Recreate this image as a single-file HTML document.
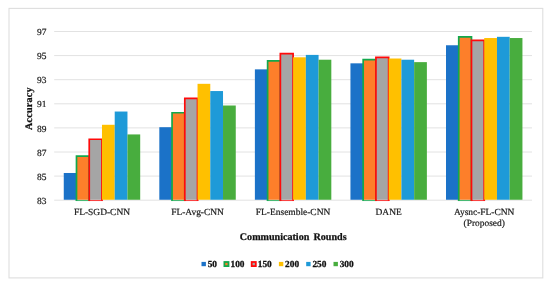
<!DOCTYPE html>
<html><head><meta charset="utf-8"><title>Accuracy vs Communication Rounds</title>
<style>
html,body{margin:0;padding:0;background:#fff}
body{width:550px;height:286px;overflow:hidden}
text{font-family:"Liberation Serif","Times New Roman",serif;fill:#1a1a1a;text-rendering:geometricPrecision}
.t{font-size:9.45px;stroke:#1a1a1a;stroke-width:0.2px}
.c{font-size:9.45px}
.b{font-size:10.1px;font-weight:bold;fill:#111;stroke:#111;stroke-width:0.25px}
.l{font-size:9.3px;font-weight:bold;fill:#111;stroke:#111;stroke-width:0.3px}
</style></head><body>
<svg width="550" height="286" viewBox="0 0 550 286" style="display:block">
<rect x="0" y="0" width="550" height="286" fill="#fff"/>
<rect x="9" y="8.4" width="533.8" height="269.5" fill="#fff" stroke="#dedede" stroke-width="1.1"/>
<line x1="54.2" x2="532.0" y1="200.20" y2="200.20" stroke="#e2e2e2" stroke-width="1"/>
<text x="46.5" y="203.80" text-anchor="end" class="t">83</text>
<line x1="54.2" x2="532.0" y1="176.10" y2="176.10" stroke="#e2e2e2" stroke-width="1"/>
<text x="46.5" y="179.70" text-anchor="end" class="t">85</text>
<line x1="54.2" x2="532.0" y1="152.00" y2="152.00" stroke="#e2e2e2" stroke-width="1"/>
<text x="46.5" y="155.60" text-anchor="end" class="t">87</text>
<line x1="54.2" x2="532.0" y1="127.90" y2="127.90" stroke="#e2e2e2" stroke-width="1"/>
<text x="46.5" y="131.50" text-anchor="end" class="t">89</text>
<line x1="54.2" x2="532.0" y1="103.80" y2="103.80" stroke="#e2e2e2" stroke-width="1"/>
<text x="46.5" y="107.40" text-anchor="end" class="t">91</text>
<line x1="54.2" x2="532.0" y1="79.70" y2="79.70" stroke="#e2e2e2" stroke-width="1"/>
<text x="46.5" y="83.30" text-anchor="end" class="t">93</text>
<line x1="54.2" x2="532.0" y1="55.60" y2="55.60" stroke="#e2e2e2" stroke-width="1"/>
<text x="46.5" y="59.20" text-anchor="end" class="t">95</text>
<line x1="54.2" x2="532.0" y1="31.50" y2="31.50" stroke="#e2e2e2" stroke-width="1"/>
<text x="46.5" y="35.10" text-anchor="end" class="t">97</text>
<rect x="63.76" y="172.99" width="12.74" height="26.76" fill="#1b72c8"/>
<rect x="76.50" y="156.12" width="12.74" height="43.63" fill="#fd7f2a"/>
<path d="M76.50 200.65V156.12H89.24V200.65" fill="none" stroke="#12a84c" stroke-width="1.7" stroke-linejoin="miter"/>
<line x1="75.65" x2="90.09" y1="200.50" y2="200.50" stroke="#12a84c" stroke-width="1.1" stroke-opacity="0.75"/>
<rect x="89.24" y="139.25" width="12.74" height="60.50" fill="#a5a5a5"/>
<path d="M89.24 200.65V139.25H101.98V200.65" fill="none" stroke="#ff0a0a" stroke-width="1.7" stroke-linejoin="miter"/>
<line x1="88.39" x2="102.83" y1="200.50" y2="200.50" stroke="#ff0a0a" stroke-width="1.1" stroke-opacity="0.75"/>
<rect x="101.98" y="124.79" width="12.74" height="74.96" fill="#ffc000"/>
<rect x="114.72" y="111.53" width="12.74" height="88.22" fill="#1e9ad8"/>
<rect x="127.46" y="134.43" width="12.74" height="65.32" fill="#48ad3e"/>
<text x="101.98" y="214.8" text-anchor="middle" class="t c">FL-SGD-CNN</text>
<rect x="159.32" y="127.20" width="12.74" height="72.55" fill="#1b72c8"/>
<rect x="172.06" y="112.74" width="12.74" height="87.01" fill="#fd7f2a"/>
<path d="M172.06 200.65V112.74H184.80V200.65" fill="none" stroke="#12a84c" stroke-width="1.7" stroke-linejoin="miter"/>
<line x1="171.21" x2="185.65" y1="200.50" y2="200.50" stroke="#12a84c" stroke-width="1.1" stroke-opacity="0.75"/>
<rect x="184.80" y="98.28" width="12.74" height="101.47" fill="#a5a5a5"/>
<path d="M184.80 200.65V98.28H197.54V200.65" fill="none" stroke="#ff0a0a" stroke-width="1.7" stroke-linejoin="miter"/>
<line x1="183.95" x2="198.39" y1="200.50" y2="200.50" stroke="#ff0a0a" stroke-width="1.1" stroke-opacity="0.75"/>
<rect x="197.54" y="83.82" width="12.74" height="115.93" fill="#ffc000"/>
<rect x="210.28" y="91.05" width="12.74" height="108.70" fill="#1e9ad8"/>
<rect x="223.02" y="105.51" width="12.74" height="94.24" fill="#48ad3e"/>
<text x="197.54" y="214.8" text-anchor="middle" class="t c">FL-Avg-CNN</text>
<rect x="254.88" y="69.36" width="12.74" height="130.39" fill="#1b72c8"/>
<rect x="267.62" y="60.92" width="12.74" height="138.83" fill="#fd7f2a"/>
<path d="M267.62 200.65V60.92H280.36V200.65" fill="none" stroke="#12a84c" stroke-width="1.7" stroke-linejoin="miter"/>
<line x1="266.77" x2="281.21" y1="200.50" y2="200.50" stroke="#12a84c" stroke-width="1.1" stroke-opacity="0.75"/>
<rect x="280.36" y="53.69" width="12.74" height="146.06" fill="#a5a5a5"/>
<path d="M280.36 200.65V53.69H293.10V200.65" fill="none" stroke="#ff0a0a" stroke-width="1.7" stroke-linejoin="miter"/>
<line x1="279.51" x2="293.95" y1="200.50" y2="200.50" stroke="#ff0a0a" stroke-width="1.1" stroke-opacity="0.75"/>
<rect x="293.10" y="57.31" width="12.74" height="142.44" fill="#ffc000"/>
<rect x="305.84" y="54.90" width="12.74" height="144.85" fill="#1e9ad8"/>
<rect x="318.58" y="59.72" width="12.74" height="140.03" fill="#48ad3e"/>
<text x="293.10" y="214.8" text-anchor="middle" class="t c">FL-Ensemble-CNN</text>
<rect x="350.44" y="63.33" width="12.74" height="136.42" fill="#1b72c8"/>
<rect x="363.18" y="59.72" width="12.74" height="140.03" fill="#fd7f2a"/>
<path d="M363.18 200.65V59.72H375.92V200.65" fill="none" stroke="#12a84c" stroke-width="1.7" stroke-linejoin="miter"/>
<line x1="362.33" x2="376.77" y1="200.50" y2="200.50" stroke="#12a84c" stroke-width="1.1" stroke-opacity="0.75"/>
<rect x="375.92" y="57.31" width="12.74" height="142.44" fill="#a5a5a5"/>
<path d="M375.92 200.65V57.31H388.66V200.65" fill="none" stroke="#ff0a0a" stroke-width="1.7" stroke-linejoin="miter"/>
<line x1="375.07" x2="389.51" y1="200.50" y2="200.50" stroke="#ff0a0a" stroke-width="1.1" stroke-opacity="0.75"/>
<rect x="388.66" y="58.51" width="12.74" height="141.24" fill="#ffc000"/>
<rect x="401.40" y="59.72" width="12.74" height="140.03" fill="#1e9ad8"/>
<rect x="414.14" y="62.13" width="12.74" height="137.62" fill="#48ad3e"/>
<text x="388.66" y="214.8" text-anchor="middle" class="t c">DANE</text>
<rect x="446.00" y="45.26" width="12.74" height="154.49" fill="#1b72c8"/>
<rect x="458.74" y="36.82" width="12.74" height="162.93" fill="#fd7f2a"/>
<path d="M458.74 200.65V36.82H471.48V200.65" fill="none" stroke="#12a84c" stroke-width="1.7" stroke-linejoin="miter"/>
<line x1="457.89" x2="472.33" y1="200.50" y2="200.50" stroke="#12a84c" stroke-width="1.1" stroke-opacity="0.75"/>
<rect x="471.48" y="40.44" width="12.74" height="159.31" fill="#a5a5a5"/>
<path d="M471.48 200.65V40.44H484.22V200.65" fill="none" stroke="#ff0a0a" stroke-width="1.7" stroke-linejoin="miter"/>
<line x1="470.63" x2="485.07" y1="200.50" y2="200.50" stroke="#ff0a0a" stroke-width="1.1" stroke-opacity="0.75"/>
<rect x="484.22" y="38.03" width="12.74" height="161.72" fill="#ffc000"/>
<rect x="496.96" y="36.82" width="12.74" height="162.93" fill="#1e9ad8"/>
<rect x="509.70" y="38.03" width="12.74" height="161.72" fill="#48ad3e"/>
<text x="484.22" y="214.8" text-anchor="middle" class="t c">Aysnc-FL-CNN</text>
<text x="484.22" y="225.8" text-anchor="middle" class="t c">(Proposed)</text>
<text transform="translate(32.2,108.6) rotate(-90)" text-anchor="middle" class="b" style="letter-spacing:0.24px">Accuracy</text>
<text x="293.2" y="240.1" text-anchor="middle" class="b" style="word-spacing:1.6px">Communication Rounds</text>
<rect x="201.5" y="261.9" width="4.4" height="4.3" fill="#1b72c8"/>
<text x="207.7" y="266.8" class="l">50</text>
<rect x="224.4" y="262" width="4.1" height="4.1" fill="#fd7f2a" stroke="#12a84c" stroke-width="1.8"/>
<text x="230.5" y="266.8" class="l">100</text>
<rect x="251.7" y="262" width="4.1" height="4.1" fill="#a5a5a5" stroke="#ff0a0a" stroke-width="1.8"/>
<text x="257.8" y="266.8" class="l">150</text>
<rect x="278.9" y="261.9" width="4.4" height="4.3" fill="#ffc000"/>
<text x="285.1" y="266.8" class="l">200</text>
<rect x="306.2" y="261.9" width="4.4" height="4.3" fill="#1e9ad8"/>
<text x="312.40000000000003" y="266.8" class="l">250</text>
<rect x="333.5" y="261.9" width="4.4" height="4.3" fill="#48ad3e"/>
<text x="339.70000000000005" y="266.8" class="l">300</text>
</svg>
</body></html>
